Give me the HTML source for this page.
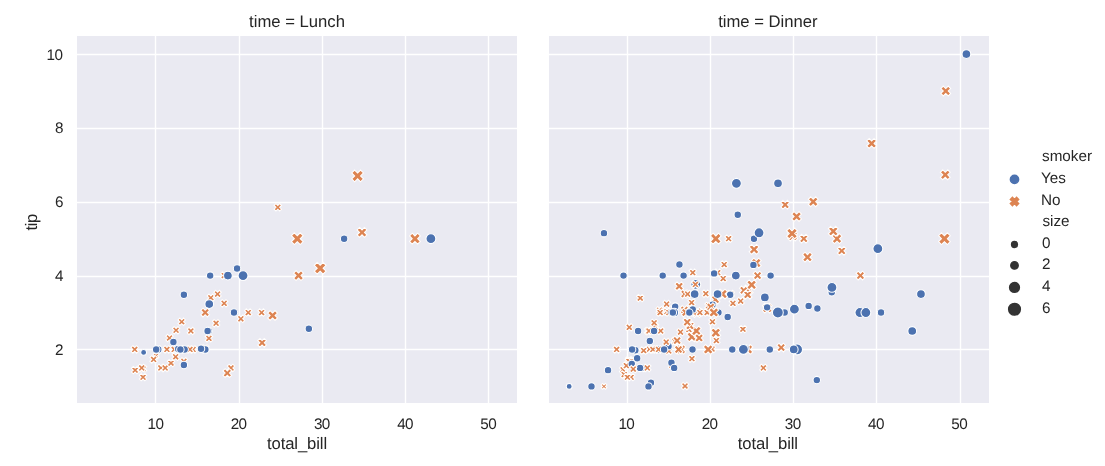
<!DOCTYPE html>
<html lang="en"><head><meta charset="utf-8"><title>relplot: tips</title>
<style>
html,body{margin:0;padding:0;background:#ffffff;}
body{width:1105px;height:466px;overflow:hidden;}
svg{display:block;}
svg text{font-family:"Liberation Sans",sans-serif;fill:#262626;text-rendering:geometricPrecision;}
</style></head><body>
<svg width="1105" height="466" viewBox="0 0 1105 466">
<rect width="1105" height="466" fill="#ffffff"/>
<defs>
<clipPath id="clipLunch"><rect x="77.0" y="36.0" width="440.0" height="367.0"/></clipPath>
<clipPath id="clipDinner"><rect x="549.0" y="36.0" width="440.0" height="367.0"/></clipPath>
</defs>
<g id="panel-Lunch">
<rect x="77.0" y="36.0" width="440.0" height="367.0" fill="#eaeaf2"/>
<g stroke="#ffffff" stroke-width="1.39" stroke-linecap="round" clip-path="url(#clipLunch)">
<line x1="155.50" y1="36.0" x2="155.50" y2="403.0"/>
<line x1="239.50" y1="36.0" x2="239.50" y2="403.0"/>
<line x1="322.50" y1="36.0" x2="322.50" y2="403.0"/>
<line x1="405.50" y1="36.0" x2="405.50" y2="403.0"/>
<line x1="488.50" y1="36.0" x2="488.50" y2="403.0"/>
<line x1="77.0" y1="349.50" x2="517.0" y2="349.50"/>
<line x1="77.0" y1="276.50" x2="517.0" y2="276.50"/>
<line x1="77.0" y1="202.50" x2="517.0" y2="202.50"/>
<line x1="77.0" y1="128.50" x2="517.0" y2="128.50"/>
<line x1="77.0" y1="54.50" x2="517.0" y2="54.50"/>
</g>
<g clip-path="url(#clipLunch)" stroke="#ffffff" stroke-width="1.042" stroke-linejoin="miter">
<path d="M296.07,270.67 298.53,273.13 301.00,270.67 303.46,273.13 301.00,275.60 303.46,278.07 301.00,280.53 298.53,278.07 296.07,280.53 293.60,278.07 296.07,275.60 293.60,273.13Z" fill="#dd8452"/>
<path d="M259.73,308.80 261.59,310.66 263.46,308.80 265.32,310.66 263.46,312.52 265.32,314.39 263.46,316.25 261.59,314.39 259.73,316.25 257.87,314.39 259.73,312.52 257.87,310.66Z" fill="#dd8452"/>
<path d="M214.22,319.51 216.08,321.37 217.95,319.51 219.81,321.37 217.95,323.23 219.81,325.10 217.95,326.96 216.08,325.10 214.22,326.96 212.36,325.10 214.22,323.23 212.36,321.37Z" fill="#dd8452"/>
<circle cx="233.97" cy="312.52" r="3.73" fill="#4c72b0"/>
<path d="M208.98,294.03 210.84,295.89 212.70,294.03 214.57,295.89 212.70,297.75 214.57,299.62 212.70,301.48 210.84,299.62 208.98,301.48 207.11,299.62 208.98,297.75 207.11,295.89Z" fill="#dd8452"/>
<path d="M154.54,352.78 156.01,354.25 157.49,352.78 158.96,354.25 157.49,355.73 158.96,357.20 157.49,358.67 156.01,357.20 154.54,358.67 153.07,357.20 154.54,355.73 153.07,354.25Z" fill="#dd8452"/>
<circle cx="344.13" cy="238.68" r="3.73" fill="#4c72b0"/>
<path d="M203.32,344.62 205.18,346.48 207.05,344.62 208.91,346.48 207.05,348.34 208.91,350.21 207.05,352.07 205.18,350.21 203.32,352.07 201.46,350.21 203.32,348.34 201.46,346.48Z" fill="#dd8452"/>
<path d="M359.55,227.47 362.02,229.93 364.48,227.47 366.95,229.93 364.48,232.40 366.95,234.86 364.48,237.33 362.02,234.86 359.55,237.33 357.09,234.86 359.55,232.40 357.09,229.93Z" fill="#dd8452"/>
<path d="M178.78,345.72 180.64,347.59 182.50,345.72 184.37,347.59 182.50,349.45 184.37,351.31 182.50,353.18 180.64,351.31 178.78,353.18 176.91,351.31 178.78,349.45 176.91,347.59Z" fill="#dd8452"/>
<path d="M222.46,271.87 224.32,273.74 226.18,271.87 228.05,273.74 226.18,275.60 228.05,277.46 226.18,279.33 224.32,277.46 222.46,279.33 220.59,277.46 222.46,275.60 220.59,273.74Z" fill="#dd8452"/>
<path d="M275.95,203.56 277.82,205.43 279.68,203.56 281.54,205.43 279.68,207.29 281.54,209.15 279.68,211.02 277.82,209.15 275.95,211.02 274.09,209.15 275.95,207.29 274.09,205.43Z" fill="#dd8452"/>
<path d="M246.42,308.80 248.28,310.66 250.14,308.80 252.01,310.66 250.14,312.52 252.01,314.39 250.14,316.25 248.28,314.39 246.42,316.25 244.55,314.39 246.42,312.52 244.55,310.66Z" fill="#dd8452"/>
<path d="M158.97,364.19 160.84,366.05 162.70,364.19 164.56,366.05 162.70,367.91 164.56,369.78 162.70,371.64 160.84,369.78 158.97,371.64 157.11,369.78 158.97,367.91 157.11,366.05Z" fill="#dd8452"/>
<path d="M173.78,353.11 175.65,354.97 177.51,353.11 179.37,354.97 177.51,356.83 179.37,358.70 177.51,360.56 175.65,358.70 173.78,360.56 171.92,358.70 173.78,356.83 171.92,354.97Z" fill="#dd8452"/>
<path d="M270.11,310.55 272.58,313.01 275.04,310.55 277.51,313.01 275.04,315.48 277.51,317.94 275.04,320.41 272.58,317.94 270.11,320.41 267.65,317.94 270.11,315.48 267.65,313.01Z" fill="#dd8452"/>
<path d="M167.63,334.28 169.49,336.14 171.35,334.28 173.22,336.14 171.35,338.00 173.22,339.87 171.35,341.73 169.49,339.87 167.63,341.73 165.76,339.87 167.63,338.00 165.76,336.14Z" fill="#dd8452"/>
<path d="M182.02,357.54 183.88,359.40 185.75,357.54 187.61,359.40 185.75,361.27 187.61,363.13 185.75,364.99 183.88,363.13 182.02,364.99 180.16,363.13 182.02,361.27 180.16,359.40Z" fill="#dd8452"/>
<path d="M189.01,327.26 190.87,329.12 192.74,327.26 194.60,329.12 192.74,330.99 194.60,332.85 192.74,334.71 190.87,332.85 189.01,334.71 187.15,332.85 189.01,330.99 187.15,329.12Z" fill="#dd8452"/>
<path d="M203.07,345.72 204.93,347.59 206.80,345.72 208.66,347.59 206.80,349.45 208.66,351.31 206.80,353.18 204.93,351.31 203.07,353.18 201.21,351.31 203.07,349.45 201.21,347.59Z" fill="#dd8452"/>
<path d="M174.20,326.52 176.06,328.39 177.93,326.52 179.79,328.39 177.93,330.25 179.79,332.11 177.93,333.98 176.06,332.11 174.20,333.98 172.34,332.11 174.20,330.25 172.34,328.39Z" fill="#dd8452"/>
<path d="M317.22,262.32 320.17,265.27 323.11,262.32 326.06,265.27 323.11,268.21 326.06,271.16 323.11,274.11 320.17,271.16 317.22,274.11 314.27,271.16 317.22,268.21 314.27,265.27Z" fill="#dd8452"/>
<path d="M141.25,364.92 143.12,366.79 144.98,364.92 146.84,366.79 144.98,368.65 146.84,370.51 144.98,372.38 143.12,370.51 141.25,372.38 139.39,370.51 141.25,368.65 139.39,366.79Z" fill="#dd8452"/>
<path d="M191.17,345.72 193.04,347.59 194.90,345.72 196.76,347.59 194.90,349.45 196.76,351.31 194.90,353.18 193.04,351.31 191.17,353.18 189.31,351.31 191.17,349.45 189.31,347.59Z" fill="#dd8452"/>
<path d="M165.05,345.72 166.91,347.59 168.77,345.72 170.64,347.59 168.77,349.45 170.64,351.31 168.77,353.18 166.91,351.31 165.05,353.18 163.18,351.31 165.05,349.45 163.18,347.59Z" fill="#dd8452"/>
<path d="M259.91,338.43 262.09,340.62 264.28,338.43 266.46,340.62 264.28,342.80 266.46,344.99 264.28,347.17 262.09,344.99 259.91,347.17 257.72,344.99 259.91,342.80 257.72,340.62Z" fill="#dd8452"/>
<path d="M229.11,364.19 230.98,366.05 232.84,364.19 234.70,366.05 232.84,367.91 234.70,369.78 232.84,371.64 230.98,369.78 229.11,371.64 227.25,369.78 229.11,367.91 227.25,366.05Z" fill="#dd8452"/>
<path d="M239.01,315.08 240.88,316.94 242.74,315.08 244.60,316.94 242.74,318.80 244.60,320.67 242.74,322.53 240.88,320.67 239.01,322.53 237.15,320.67 239.01,318.80 237.15,316.94Z" fill="#dd8452"/>
<path d="M163.30,364.19 165.16,366.05 167.03,364.19 168.89,366.05 167.03,367.91 168.89,369.78 167.03,371.64 165.16,369.78 163.30,371.64 161.44,369.78 163.30,367.91 161.44,366.05Z" fill="#dd8452"/>
<path d="M172.37,345.72 174.23,347.59 176.10,345.72 177.96,347.59 176.10,349.45 177.96,351.31 176.10,353.18 174.23,351.31 172.37,353.18 170.51,351.31 172.37,349.45 170.51,347.59Z" fill="#dd8452"/>
<path d="M222.29,299.57 224.15,301.43 226.02,299.57 227.88,301.43 226.02,303.29 227.88,305.16 226.02,307.02 224.15,305.16 222.29,307.02 220.43,305.16 222.29,303.29 220.43,301.43Z" fill="#dd8452"/>
<path d="M141.17,373.42 143.03,375.28 144.90,373.42 146.76,375.28 144.90,377.14 146.76,379.01 144.90,380.87 143.03,379.01 141.17,380.87 139.31,379.01 141.17,377.14 139.31,375.28Z" fill="#dd8452"/>
<path d="M156.31,345.72 158.18,347.59 160.04,345.72 161.90,347.59 160.04,349.45 161.90,351.31 160.04,353.18 158.18,351.31 156.31,353.18 154.45,351.31 156.31,349.45 154.45,347.59Z" fill="#dd8452"/>
<path d="M188.09,345.72 189.96,347.59 191.82,345.72 193.68,347.59 191.82,349.45 193.68,351.31 191.82,353.18 189.96,351.31 188.09,353.18 186.23,351.31 188.09,349.45 186.23,347.59Z" fill="#dd8452"/>
<circle cx="205.35" cy="349.45" r="3.73" fill="#4c72b0"/>
<path d="M179.86,318.03 181.72,319.89 183.58,318.03 185.45,319.89 183.58,321.76 185.45,323.62 183.58,325.48 181.72,323.62 179.86,325.48 177.99,323.62 179.86,321.76 177.99,319.89Z" fill="#dd8452"/>
<path d="M215.72,290.34 217.58,292.20 219.44,290.34 221.31,292.20 219.44,294.06 221.31,295.93 219.44,297.79 217.58,295.93 215.72,297.79 213.85,295.93 215.72,294.06 213.85,292.20Z" fill="#dd8452"/>
<path d="M354.66,170.01 357.61,172.96 360.55,170.01 363.50,172.96 360.55,175.90 363.50,178.85 360.55,181.80 357.61,178.85 354.66,181.80 351.71,178.85 354.66,175.90 351.71,172.96Z" fill="#dd8452"/>
<path d="M412.21,233.24 414.93,235.96 417.65,233.24 420.36,235.96 417.65,238.68 420.36,241.39 417.65,244.11 414.93,241.39 412.21,244.11 409.50,241.39 412.21,238.68 409.50,235.96Z" fill="#dd8452"/>
<path d="M294.34,232.78 297.29,235.73 300.23,232.78 303.18,235.73 300.23,238.68 303.18,241.62 300.23,244.57 297.29,241.62 294.34,244.57 291.39,241.62 294.34,238.68 291.39,235.73Z" fill="#dd8452"/>
<path d="M207.06,334.65 208.93,336.51 210.79,334.65 212.65,336.51 210.79,338.37 212.65,340.24 210.79,342.10 208.93,340.24 207.06,342.10 205.20,340.24 207.06,338.37 205.20,336.51Z" fill="#dd8452"/>
<path d="M139.84,364.19 141.70,366.05 143.57,364.19 145.43,366.05 143.57,367.91 145.43,369.78 143.57,371.64 141.70,369.78 139.84,371.64 137.98,369.78 139.84,367.91 137.98,366.05Z" fill="#dd8452"/>
<path d="M225.13,368.71 227.31,370.90 229.50,368.71 231.68,370.90 229.50,373.08 231.68,375.27 229.50,377.45 227.31,375.27 225.13,377.45 222.94,375.27 225.13,373.08 222.94,370.90Z" fill="#dd8452"/>
<path d="M169.13,359.39 170.99,361.25 172.85,359.39 174.72,361.25 172.85,363.11 174.72,364.98 172.85,366.84 170.99,364.98 169.13,366.84 167.26,364.98 169.13,363.11 167.26,361.25Z" fill="#dd8452"/>
<path d="M151.74,355.69 153.60,357.56 155.46,355.69 157.33,357.56 155.46,359.42 157.33,361.28 155.46,363.15 153.60,361.28 151.74,363.15 149.87,361.28 151.74,359.42 149.87,357.56Z" fill="#dd8452"/>
<path d="M132.85,345.72 134.71,347.59 136.58,345.72 138.44,347.59 136.58,349.45 138.44,351.31 136.58,353.18 134.71,351.31 132.85,353.18 130.99,351.31 132.85,349.45 130.99,347.59Z" fill="#dd8452"/>
<circle cx="237.05" cy="268.58" r="3.73" fill="#4c72b0"/>
<circle cx="308.85" cy="328.77" r="3.73" fill="#4c72b0"/>
<circle cx="201.02" cy="348.71" r="3.73" fill="#4c72b0"/>
<circle cx="210.18" cy="275.60" r="3.73" fill="#4c72b0"/>
<path d="M133.27,366.40 135.13,368.26 136.99,366.40 138.86,368.26 136.99,370.13 138.86,371.99 136.99,373.85 135.13,371.99 133.27,373.85 131.40,371.99 133.27,370.13 131.40,368.26Z" fill="#dd8452"/>
<circle cx="158.26" cy="349.45" r="3.73" fill="#4c72b0"/>
<circle cx="430.91" cy="238.68" r="4.93" fill="#4c72b0"/>
<circle cx="180.39" cy="349.45" r="3.73" fill="#4c72b0"/>
<circle cx="184.63" cy="349.45" r="3.73" fill="#4c72b0"/>
<circle cx="227.90" cy="275.60" r="4.37" fill="#4c72b0"/>
<circle cx="178.23" cy="349.08" r="3.73" fill="#4c72b0"/>
<circle cx="180.39" cy="349.45" r="3.73" fill="#4c72b0"/>
<circle cx="208.68" cy="330.99" r="3.73" fill="#4c72b0"/>
<circle cx="243.04" cy="275.60" r="4.93" fill="#4c72b0"/>
<circle cx="209.26" cy="304.03" r="4.37" fill="#4c72b0"/>
<circle cx="173.40" cy="342.06" r="3.73" fill="#4c72b0"/>
<circle cx="183.88" cy="294.80" r="3.73" fill="#4c72b0"/>
<circle cx="143.62" cy="352.40" r="2.95" fill="#4c72b0"/>
<path d="M203.00,308.15 205.18,310.34 207.37,308.15 209.55,310.34 207.37,312.52 209.55,314.71 207.37,316.90 205.18,314.71 203.00,316.90 200.81,314.71 203.00,312.52 200.81,310.34Z" fill="#dd8452"/>
<circle cx="183.88" cy="364.96" r="3.73" fill="#4c72b0"/>
<circle cx="207.60" cy="330.99" r="3.73" fill="#4c72b0"/>
<circle cx="156.18" cy="349.45" r="3.73" fill="#4c72b0"/>
</g>
<text x="297.0" y="27.3" font-size="16.67" text-anchor="middle">time = Lunch</text>
<text x="155.43" y="428.9" font-size="15.28" text-anchor="middle" letter-spacing="-0.6">10</text>
<text x="238.63" y="428.9" font-size="15.28" text-anchor="middle" letter-spacing="-0.6">20</text>
<text x="321.83" y="428.9" font-size="15.28" text-anchor="middle" letter-spacing="-0.6">30</text>
<text x="405.03" y="428.9" font-size="15.28" text-anchor="middle" letter-spacing="-0.6">40</text>
<text x="488.23" y="428.9" font-size="15.28" text-anchor="middle" letter-spacing="-0.6">50</text>
<text x="297.0" y="448.8" font-size="16.67" text-anchor="middle" letter-spacing="-0.1">total_bill</text>
</g>
<g id="panel-Dinner">
<rect x="549.0" y="36.0" width="440.0" height="367.0" fill="#eaeaf2"/>
<g stroke="#ffffff" stroke-width="1.39" stroke-linecap="round" clip-path="url(#clipDinner)">
<line x1="627.50" y1="36.0" x2="627.50" y2="403.0"/>
<line x1="710.50" y1="36.0" x2="710.50" y2="403.0"/>
<line x1="793.50" y1="36.0" x2="793.50" y2="403.0"/>
<line x1="876.50" y1="36.0" x2="876.50" y2="403.0"/>
<line x1="960.50" y1="36.0" x2="960.50" y2="403.0"/>
<line x1="549.0" y1="349.50" x2="989.0" y2="349.50"/>
<line x1="549.0" y1="276.50" x2="989.0" y2="276.50"/>
<line x1="549.0" y1="202.50" x2="989.0" y2="202.50"/>
<line x1="549.0" y1="128.50" x2="989.0" y2="128.50"/>
<line x1="549.0" y1="54.50" x2="989.0" y2="54.50"/>
</g>
<g clip-path="url(#clipDinner)" stroke="#ffffff" stroke-width="1.042" stroke-linejoin="miter">
<path d="M683.14,382.28 685.01,384.14 686.87,382.28 688.73,384.14 686.87,386.01 688.73,387.87 686.87,389.73 685.01,387.87 683.14,389.73 681.28,387.87 683.14,386.01 681.28,384.14Z" fill="#dd8452"/>
<path d="M627.49,357.63 629.68,359.82 631.86,357.63 634.05,359.82 631.86,362.00 634.05,364.19 631.86,366.37 629.68,364.19 627.49,366.37 625.31,364.19 627.49,362.00 625.31,359.82Z" fill="#dd8452"/>
<path d="M716.27,289.69 718.45,291.88 720.64,289.69 722.82,291.88 720.64,294.06 722.82,296.25 720.64,298.43 718.45,296.25 716.27,298.43 714.08,296.25 716.27,294.06 714.08,291.88Z" fill="#dd8452"/>
<path d="M738.80,297.35 740.67,299.21 742.53,297.35 744.39,299.21 742.53,301.08 744.39,302.94 742.53,304.81 740.67,302.94 738.80,304.81 736.94,302.94 738.80,301.08 736.94,299.21Z" fill="#dd8452"/>
<path d="M745.77,285.07 748.24,287.54 750.70,285.07 753.17,287.54 750.70,290.00 753.17,292.47 750.70,294.93 748.24,292.47 745.77,294.93 743.31,292.47 745.77,290.00 743.31,287.54Z" fill="#dd8452"/>
<path d="M751.60,244.45 754.06,246.92 756.53,244.45 758.99,246.92 756.53,249.38 758.99,251.85 756.53,254.31 754.06,251.85 751.60,254.31 749.13,251.85 751.60,249.38 749.13,246.92Z" fill="#dd8452"/>
<path d="M614.75,345.72 616.62,347.59 618.48,345.72 620.34,347.59 618.48,349.45 620.34,351.31 618.48,353.18 616.62,351.31 614.75,353.18 612.89,351.31 614.75,349.45 612.89,347.59Z" fill="#dd8452"/>
<path d="M764.83,303.16 767.29,305.63 769.76,303.16 772.22,305.63 769.76,308.09 772.22,310.56 769.76,313.02 767.29,310.56 764.83,313.02 762.36,310.56 764.83,308.09 762.36,305.63Z" fill="#dd8452"/>
<path d="M666.92,347.20 668.78,349.06 670.65,347.20 672.51,349.06 670.65,350.93 672.51,352.79 670.65,354.65 668.78,352.79 666.92,354.65 665.06,352.79 666.92,350.93 665.06,349.06Z" fill="#dd8452"/>
<path d="M664.76,300.31 666.62,302.17 668.48,300.31 670.35,302.17 668.48,304.03 670.35,305.90 668.48,307.76 666.62,305.90 664.76,307.76 662.89,305.90 664.76,304.03 662.89,302.17Z" fill="#dd8452"/>
<path d="M627.23,356.43 629.10,358.29 630.96,356.43 632.82,358.29 630.96,360.16 632.82,362.02 630.96,363.89 629.10,362.02 627.23,363.89 625.37,362.02 627.23,360.16 625.37,358.29Z" fill="#dd8452"/>
<path d="M834.55,233.74 837.01,236.21 839.48,233.74 841.94,236.21 839.48,238.68 841.94,241.14 839.48,243.61 837.01,241.14 834.55,243.61 832.08,241.14 834.55,238.68 832.08,236.21Z" fill="#dd8452"/>
<path d="M670.08,361.60 671.94,363.46 673.81,361.60 675.67,363.46 673.81,365.33 675.67,367.19 673.81,369.05 671.94,367.19 670.08,369.05 668.22,367.19 670.08,365.33 668.22,363.46Z" fill="#dd8452"/>
<path d="M694.52,307.59 696.99,310.06 699.45,307.59 701.92,310.06 699.45,312.52 701.92,314.99 699.45,317.46 696.99,314.99 694.52,317.46 692.06,314.99 694.52,312.52 692.06,310.06Z" fill="#dd8452"/>
<path d="M665.17,308.06 667.04,309.92 668.90,308.06 670.76,309.92 668.90,311.79 670.76,313.65 668.90,315.51 667.04,313.65 665.17,315.51 663.31,313.65 665.17,311.79 663.31,309.92Z" fill="#dd8452"/>
<path d="M721.33,274.83 723.20,276.69 725.06,274.83 726.92,276.69 725.06,278.55 726.92,280.42 725.06,282.28 723.20,280.42 721.33,282.28 719.47,280.42 721.33,278.55 719.47,276.69Z" fill="#dd8452"/>
<path d="M627.41,357.27 629.60,359.45 631.78,357.27 633.97,359.45 631.78,361.64 633.97,363.82 631.78,366.01 629.60,363.82 627.41,366.01 625.23,363.82 627.41,361.64 625.23,359.45Z" fill="#dd8452"/>
<path d="M677.00,281.94 679.18,284.12 681.37,281.94 683.55,284.12 681.37,286.31 683.55,288.49 681.37,290.68 679.18,288.49 677.00,290.68 674.81,288.49 677.00,286.31 674.81,284.12Z" fill="#dd8452"/>
<path d="M682.66,289.69 684.84,291.88 687.03,289.69 689.21,291.88 687.03,294.06 689.21,296.25 687.03,298.43 684.84,296.25 682.66,298.43 680.47,296.25 682.66,294.06 680.47,291.88Z" fill="#dd8452"/>
<path d="M713.27,295.23 715.46,297.42 717.64,295.23 719.83,297.42 717.64,299.60 719.83,301.79 717.64,303.97 715.46,301.79 713.27,303.97 711.09,301.79 713.27,299.60 711.09,297.42Z" fill="#dd8452"/>
<path d="M690.88,268.92 692.74,270.78 694.61,268.92 696.47,270.78 694.61,272.65 696.47,274.51 694.61,276.37 692.74,274.51 690.88,276.37 689.02,274.51 690.88,272.65 689.02,270.78Z" fill="#dd8452"/>
<path d="M710.60,318.03 712.46,319.89 714.33,318.03 716.19,319.89 714.33,321.76 716.19,323.62 714.33,325.48 712.46,323.62 710.60,325.48 708.74,323.62 710.60,321.76 708.74,319.89Z" fill="#dd8452"/>
<path d="M672.99,337.23 674.86,339.09 676.72,337.23 678.58,339.09 676.72,340.96 678.58,342.82 676.72,344.68 674.86,342.82 672.99,344.68 671.13,342.82 672.99,340.96 671.13,339.09Z" fill="#dd8452"/>
<path d="M869.16,138.48 871.62,140.94 874.09,138.48 876.55,140.94 874.09,143.41 876.55,145.87 874.09,148.34 871.62,145.87 869.16,148.34 866.69,145.87 869.16,143.41 866.69,140.94Z" fill="#dd8452"/>
<path d="M706.69,302.15 708.55,304.02 710.42,302.15 712.28,304.02 710.42,305.88 712.28,307.74 710.42,309.61 708.55,307.74 706.69,309.61 704.83,307.74 706.69,305.88 704.83,304.02Z" fill="#dd8452"/>
<path d="M689.36,331.97 691.83,334.43 694.29,331.97 696.76,334.43 694.29,336.90 696.76,339.36 694.29,341.83 691.83,339.36 689.36,341.83 686.90,339.36 689.36,336.90 686.90,334.43Z" fill="#dd8452"/>
<path d="M653.03,345.72 654.89,347.59 656.75,345.72 658.62,347.59 656.75,349.45 658.62,351.31 656.75,353.18 654.89,351.31 653.03,353.18 651.16,351.31 653.03,349.45 651.16,347.59Z" fill="#dd8452"/>
<path d="M647.37,345.72 649.23,347.59 651.09,345.72 652.96,347.59 651.09,349.45 652.96,351.31 651.09,353.18 649.23,351.31 647.37,353.18 645.50,351.31 647.37,349.45 645.50,347.59Z" fill="#dd8452"/>
<path d="M722.33,260.80 724.19,262.66 726.06,260.80 727.92,262.66 726.06,264.52 727.92,266.39 726.06,268.25 724.19,266.39 722.33,268.25 720.47,266.39 722.33,264.52 720.47,262.66Z" fill="#dd8452"/>
<path d="M705.27,308.80 707.14,310.66 709.00,308.80 710.86,310.66 709.00,312.52 710.86,314.39 709.00,316.25 707.14,314.39 705.27,316.25 703.41,314.39 705.27,312.52 703.41,310.66Z" fill="#dd8452"/>
<path d="M621.24,366.03 623.11,367.90 624.97,366.03 626.83,367.90 624.97,369.76 626.83,371.62 624.97,373.49 623.11,371.62 621.24,373.49 619.38,371.62 621.24,369.76 619.38,367.90Z" fill="#dd8452"/>
<path d="M693.86,326.06 696.32,328.52 698.79,326.06 701.25,328.52 698.79,330.99 701.25,333.45 698.79,335.92 696.32,333.45 693.86,335.92 691.39,333.45 693.86,330.99 691.39,328.52Z" fill="#dd8452"/>
<path d="M667.09,308.80 668.95,310.66 670.81,308.80 672.68,310.66 670.81,312.52 672.68,314.39 670.81,316.25 668.95,314.39 667.09,316.25 665.22,314.39 667.09,312.52 665.22,310.66Z" fill="#dd8452"/>
<path d="M713.33,327.90 715.79,330.37 718.26,327.90 720.72,330.37 718.26,332.83 720.72,335.30 718.26,337.76 715.79,335.30 713.33,337.76 710.86,335.30 713.33,332.83 710.86,330.37Z" fill="#dd8452"/>
<path d="M689.72,298.83 691.58,300.69 693.44,298.83 695.31,300.69 693.44,302.56 695.31,304.42 693.44,306.28 691.58,304.42 689.72,306.28 687.85,304.42 689.72,302.56 687.85,300.69Z" fill="#dd8452"/>
<path d="M741.64,286.00 743.83,288.18 746.01,286.00 748.20,288.18 746.01,290.37 748.20,292.56 746.01,294.74 743.83,292.56 741.64,294.74 739.46,292.56 741.64,290.37 739.46,288.18Z" fill="#dd8452"/>
<path d="M677.16,345.08 679.35,347.26 681.53,345.08 683.72,347.26 681.53,349.45 683.72,351.64 681.53,353.82 679.35,351.64 677.16,353.82 674.98,351.64 677.16,349.45 674.98,347.26Z" fill="#dd8452"/>
<path d="M682.32,305.57 684.51,307.76 686.69,305.57 688.88,307.76 686.69,309.94 688.88,312.13 686.69,314.31 684.51,312.13 682.32,314.31 680.14,312.13 682.32,309.94 680.14,307.76Z" fill="#dd8452"/>
<path d="M696.97,333.63 699.15,335.82 701.34,333.63 703.52,335.82 701.34,338.00 703.52,340.19 701.34,342.37 699.15,340.19 696.97,342.37 694.78,340.19 696.97,338.00 694.78,335.82Z" fill="#dd8452"/>
<path d="M801.63,234.30 803.82,236.49 806.00,234.30 808.19,236.49 806.00,238.68 808.19,240.86 806.00,243.05 803.82,240.86 801.63,243.05 799.45,240.86 801.63,238.68 799.45,236.49Z" fill="#dd8452"/>
<path d="M674.92,336.22 677.10,338.40 679.29,336.22 681.47,338.40 679.29,340.59 681.47,342.77 679.29,344.96 677.10,342.77 674.92,344.96 672.73,342.77 674.92,340.59 672.73,338.40Z" fill="#dd8452"/>
<path d="M687.05,325.78 688.92,327.65 690.78,325.78 692.64,327.65 690.78,329.51 692.64,331.37 690.78,333.24 688.92,331.37 687.05,333.24 685.19,331.37 687.05,329.51 685.19,327.65Z" fill="#dd8452"/>
<path d="M657.77,306.58 659.63,308.45 661.49,306.58 663.36,308.45 661.49,310.31 663.36,312.17 661.49,314.04 659.63,312.17 657.77,314.04 655.90,312.17 657.77,310.31 655.90,308.45Z" fill="#dd8452"/>
<path d="M622.32,370.83 624.19,372.70 626.05,370.83 627.91,372.70 626.05,374.56 627.91,376.42 626.05,378.29 624.19,376.42 622.32,378.29 620.46,376.42 622.32,374.56 620.46,372.70Z" fill="#dd8452"/>
<path d="M794.11,211.59 796.58,214.05 799.04,211.59 801.51,214.05 799.04,216.52 801.51,218.99 799.04,221.45 796.58,218.99 794.11,221.45 791.65,218.99 794.11,216.52 791.65,214.05Z" fill="#dd8452"/>
<path d="M693.96,308.80 695.82,310.66 697.69,308.80 699.55,310.66 697.69,312.52 699.55,314.39 697.69,316.25 695.82,314.39 693.96,316.25 692.10,314.39 693.96,312.52 692.10,310.66Z" fill="#dd8452"/>
<path d="M726.74,234.95 728.60,236.81 730.47,234.95 732.33,236.81 730.47,238.68 732.33,240.54 730.47,242.40 728.60,240.54 726.74,242.40 724.88,240.54 726.74,238.68 724.88,236.81Z" fill="#dd8452"/>
<path d="M810.75,196.82 813.22,199.28 815.68,196.82 818.15,199.28 815.68,201.75 818.15,204.22 815.68,206.68 813.22,204.22 810.75,206.68 808.29,204.22 810.75,201.75 808.29,199.28Z" fill="#dd8452"/>
<path d="M779.00,343.23 781.19,345.42 783.37,343.23 785.56,345.42 783.37,347.60 785.56,349.79 783.37,351.97 781.19,349.79 779.00,351.97 776.82,349.79 779.00,347.60 776.82,345.42Z" fill="#dd8452"/>
<path d="M691.88,308.80 693.74,310.66 695.61,308.80 697.47,310.66 695.61,312.52 697.47,314.39 695.61,316.25 693.74,314.39 691.88,316.25 690.02,314.39 691.88,312.52 690.02,310.66Z" fill="#dd8452"/>
<path d="M646.12,327.26 647.98,329.12 649.85,327.26 651.71,329.12 649.85,330.99 651.71,332.85 649.85,334.71 647.98,332.85 646.12,334.71 644.26,332.85 646.12,330.99 644.26,329.12Z" fill="#dd8452"/>
<path d="M627.40,323.57 629.26,325.43 631.13,323.57 632.99,325.43 631.13,327.29 632.99,329.16 631.13,331.02 629.26,329.16 627.40,331.02 625.54,329.16 627.40,327.29 625.54,325.43Z" fill="#dd8452"/>
<path d="M830.80,226.36 833.27,228.82 835.73,226.36 838.20,228.82 835.73,231.29 838.20,233.76 835.73,236.22 833.27,233.76 830.80,236.22 828.34,233.76 830.80,231.29 828.34,228.82Z" fill="#dd8452"/>
<path d="M624.49,361.97 626.35,363.83 628.21,361.97 630.08,363.83 628.21,365.70 630.08,367.56 628.21,369.42 626.35,367.56 624.49,369.42 622.62,367.56 624.49,365.70 622.62,363.83Z" fill="#dd8452"/>
<path d="M753.84,258.12 756.31,260.58 758.77,258.12 761.24,260.58 758.77,263.05 761.24,265.51 758.77,267.98 756.31,265.51 753.84,267.98 751.38,265.51 753.84,263.05 751.38,260.58Z" fill="#dd8452"/>
<path d="M703.94,289.97 705.81,291.83 707.67,289.97 709.53,291.83 707.67,293.69 709.53,295.56 707.67,297.42 705.81,295.56 703.94,297.42 702.08,295.56 703.94,293.69 702.08,291.83Z" fill="#dd8452"/>
<circle cx="859.89" cy="312.52" r="4.93" fill="#4c72b0"/>
<path d="M761.52,364.19 763.38,366.05 765.24,364.19 767.11,366.05 765.24,367.91 767.11,369.78 765.24,371.64 763.38,369.78 761.52,371.64 759.65,369.78 761.52,367.91 759.65,366.05Z" fill="#dd8452"/>
<circle cx="637.17" cy="358.31" r="3.73" fill="#4c72b0"/>
<path d="M942.79,169.86 945.26,172.33 947.72,169.86 950.19,172.33 947.72,174.79 950.19,177.26 947.72,179.72 945.26,177.26 942.79,179.72 940.33,177.26 942.79,174.79 940.33,172.33Z" fill="#dd8452"/>
<circle cx="712.46" cy="304.77" r="3.73" fill="#4c72b0"/>
<circle cx="658.55" cy="349.45" r="3.73" fill="#4c72b0"/>
<circle cx="635.34" cy="350.19" r="3.73" fill="#4c72b0"/>
<circle cx="695.82" cy="284.46" r="4.93" fill="#4c72b0"/>
<path d="M687.81,321.45 690.00,323.63 692.18,321.45 694.37,323.63 692.18,325.82 694.37,328.00 692.18,330.19 690.00,328.00 687.81,330.19 685.63,328.00 687.81,325.82 685.63,323.63Z" fill="#dd8452"/>
<path d="M708.53,302.62 710.72,304.80 712.90,302.62 715.09,304.80 712.90,306.99 715.09,309.17 712.90,311.36 710.72,309.17 708.53,311.36 706.35,309.17 708.53,306.99 706.35,304.80Z" fill="#dd8452"/>
<path d="M678.65,328.37 680.51,330.23 682.38,328.37 684.24,330.23 682.38,332.10 684.24,333.96 682.38,335.82 680.51,333.96 678.65,335.82 676.79,333.96 678.65,332.10 676.79,330.23Z" fill="#dd8452"/>
<circle cx="569.19" cy="386.38" r="2.95" fill="#4c72b0"/>
<path d="M710.10,345.35 711.96,347.22 713.83,345.35 715.69,347.22 713.83,349.08 715.69,350.94 713.83,352.81 711.96,350.94 710.10,352.81 708.24,350.94 710.10,349.08 708.24,347.22Z" fill="#dd8452"/>
<circle cx="668.53" cy="346.13" r="3.73" fill="#4c72b0"/>
<path d="M641.79,346.83 643.66,348.69 645.52,346.83 647.38,348.69 645.52,350.56 647.38,352.42 645.52,354.28 643.66,352.42 641.79,354.28 639.93,352.42 641.79,350.56 639.93,348.69Z" fill="#dd8452"/>
<path d="M683.49,308.15 685.67,310.34 687.86,308.15 690.04,310.34 687.86,312.52 690.04,314.71 687.86,316.90 685.67,314.71 683.49,316.90 681.30,314.71 683.49,312.52 681.30,310.34Z" fill="#dd8452"/>
<circle cx="767.13" cy="307.36" r="3.73" fill="#4c72b0"/>
<circle cx="753.98" cy="238.68" r="3.73" fill="#4c72b0"/>
<path d="M664.34,338.34 666.20,340.20 668.07,338.34 669.93,340.20 668.07,342.06 669.93,343.93 668.07,345.79 666.20,343.93 664.34,345.79 662.48,343.93 664.34,342.06 662.48,340.20Z" fill="#dd8452"/>
<path d="M629.23,373.42 631.09,375.28 632.96,373.42 634.82,375.28 632.96,377.14 634.82,379.01 632.96,380.87 631.09,379.01 629.23,380.87 627.37,379.01 629.23,377.14 627.37,375.28Z" fill="#dd8452"/>
<circle cx="692.74" cy="309.57" r="3.73" fill="#4c72b0"/>
<circle cx="784.68" cy="312.52" r="3.73" fill="#4c72b0"/>
<path d="M728.90,290.34 730.77,292.20 732.63,290.34 734.49,292.20 732.63,294.06 734.49,295.93 732.63,297.79 730.77,295.93 728.90,297.79 727.04,295.93 728.90,294.06 727.04,292.20Z" fill="#dd8452"/>
<circle cx="591.49" cy="386.38" r="3.73" fill="#4c72b0"/>
<circle cx="679.43" cy="264.52" r="3.73" fill="#4c72b0"/>
<path d="M731.07,299.57 732.93,301.43 734.79,299.57 736.66,301.43 734.79,303.29 736.66,305.16 734.79,307.02 732.93,305.16 731.07,307.02 729.20,305.16 731.07,303.29 729.20,301.43Z" fill="#dd8452"/>
<circle cx="877.86" cy="248.64" r="4.93" fill="#4c72b0"/>
<circle cx="770.62" cy="275.60" r="3.73" fill="#4c72b0"/>
<circle cx="643.74" cy="367.91" r="3.73" fill="#4c72b0"/>
<circle cx="718.45" cy="312.52" r="3.73" fill="#4c72b0"/>
<path d="M645.45,364.19 647.32,366.05 649.18,364.19 651.04,366.05 649.18,367.91 651.04,369.78 649.18,371.64 647.32,369.78 645.45,371.64 643.59,369.78 645.45,367.91 643.59,366.05Z" fill="#dd8452"/>
<circle cx="638.08" cy="330.99" r="3.73" fill="#4c72b0"/>
<circle cx="671.61" cy="312.52" r="3.73" fill="#4c72b0"/>
<circle cx="912.23" cy="330.99" r="4.37" fill="#4c72b0"/>
<circle cx="730.18" cy="294.80" r="3.73" fill="#4c72b0"/>
<path d="M715.84,268.92 717.70,270.78 719.57,268.92 721.43,270.78 719.57,272.65 721.43,274.51 719.57,276.37 717.70,274.51 715.84,276.37 713.98,274.51 715.84,272.65 713.98,270.78Z" fill="#dd8452"/>
<circle cx="671.45" cy="362.74" r="3.73" fill="#4c72b0"/>
<circle cx="714.13" cy="273.38" r="3.73" fill="#4c72b0"/>
<circle cx="753.40" cy="264.89" r="3.73" fill="#4c72b0"/>
<path d="M693.54,280.74 695.41,282.60 697.27,280.74 699.13,282.60 697.27,284.46 699.13,286.33 697.27,288.19 695.41,286.33 693.54,288.19 691.68,286.33 693.54,284.46 691.68,282.60Z" fill="#dd8452"/>
<circle cx="662.71" cy="275.60" r="3.73" fill="#4c72b0"/>
<path d="M658.27,308.80 660.13,310.66 661.99,308.80 663.86,310.66 661.99,312.52 663.86,314.39 661.99,316.25 660.13,314.39 658.27,316.25 656.40,314.39 658.27,312.52 656.40,310.66Z" fill="#dd8452"/>
<path d="M602.50,383.43 603.97,384.90 605.44,383.43 606.92,384.90 605.44,386.38 606.92,387.85 605.44,389.32 603.97,387.85 602.50,389.32 601.02,387.85 602.50,386.38 601.02,384.90Z" fill="#dd8452"/>
<path d="M858.21,271.23 860.39,273.41 862.58,271.23 864.76,273.41 862.58,275.60 864.76,277.79 862.58,279.97 860.39,277.79 858.21,279.97 856.02,277.79 858.21,275.60 856.02,273.41Z" fill="#dd8452"/>
<path d="M741.05,325.41 742.91,327.28 744.78,325.41 746.64,327.28 744.78,329.14 746.64,331.00 744.78,332.87 742.91,331.00 741.05,332.87 739.19,331.00 741.05,329.14 739.19,327.28Z" fill="#dd8452"/>
<path d="M755.37,271.23 757.56,273.41 759.74,271.23 761.93,273.41 759.74,275.60 761.93,277.79 759.74,279.97 757.56,277.79 755.37,279.97 753.19,277.79 755.37,275.60 753.19,273.41Z" fill="#dd8452"/>
<path d="M685.81,290.34 687.67,292.20 689.53,290.34 691.40,292.20 689.53,294.06 691.40,295.93 689.53,297.79 687.67,295.93 685.81,297.79 683.94,295.93 685.81,294.06 683.94,292.20Z" fill="#dd8452"/>
<path d="M790.20,231.16 792.67,233.63 795.13,231.16 797.60,233.63 795.13,236.09 797.60,238.56 795.13,241.02 792.67,238.56 790.20,241.02 787.74,238.56 790.20,236.09 787.74,233.63Z" fill="#dd8452"/>
<path d="M658.85,327.26 660.71,329.12 662.58,327.26 664.44,329.12 662.58,330.99 664.44,332.85 662.58,334.71 660.71,332.85 658.85,334.71 656.99,332.85 658.85,330.99 656.99,329.12Z" fill="#dd8452"/>
<path d="M651.03,345.72 652.89,347.59 654.75,345.72 656.62,347.59 654.75,349.45 656.62,351.31 654.75,353.18 652.89,351.31 651.03,353.18 649.16,351.31 651.03,349.45 649.16,347.59Z" fill="#dd8452"/>
<path d="M685.07,317.76 687.25,319.94 689.44,317.76 691.62,319.94 689.44,322.13 691.62,324.31 689.44,326.50 687.25,324.31 685.07,326.50 682.88,324.31 685.07,322.13 682.88,319.94Z" fill="#dd8452"/>
<path d="M745.44,344.52 747.91,346.98 750.37,344.52 752.84,346.98 750.37,349.45 752.84,351.92 750.37,354.38 747.91,351.92 745.44,354.38 742.98,351.92 745.44,349.45 742.98,346.98Z" fill="#dd8452"/>
<path d="M705.67,344.52 708.14,346.98 710.60,344.52 713.07,346.98 710.60,349.45 713.07,351.92 710.60,354.38 708.14,351.92 705.67,354.38 703.21,351.92 705.67,349.45 703.21,346.98Z" fill="#dd8452"/>
<path d="M789.29,228.07 792.00,230.79 794.72,228.07 797.43,230.79 794.72,233.51 797.43,236.22 794.72,238.94 792.00,236.22 789.29,238.94 786.57,236.22 789.29,233.51 786.57,230.79Z" fill="#dd8452"/>
<path d="M941.48,232.78 944.42,235.73 947.37,232.78 950.32,235.73 947.37,238.68 950.32,241.62 947.37,244.57 944.42,241.62 941.48,244.57 938.53,241.62 941.48,238.68 938.53,235.73Z" fill="#dd8452"/>
<path d="M749.18,279.90 751.65,282.37 754.12,279.90 756.58,282.37 754.12,284.83 756.58,287.30 754.12,289.76 751.65,287.30 749.18,289.76 746.72,287.30 749.18,284.83 746.72,282.37Z" fill="#dd8452"/>
<path d="M653.19,323.20 655.05,325.06 656.92,323.20 658.78,325.06 656.92,326.93 658.78,328.79 656.92,330.65 655.05,328.79 653.19,330.65 651.33,328.79 653.19,326.93 651.33,325.06Z" fill="#dd8452"/>
<path d="M678.38,344.52 680.85,346.98 683.31,344.52 685.78,346.98 683.31,349.45 685.78,351.92 683.31,354.38 680.85,351.92 678.38,354.38 675.92,351.92 678.38,349.45 675.92,346.98Z" fill="#dd8452"/>
<path d="M720.06,289.13 722.53,291.60 725.00,289.13 727.46,291.60 725.00,294.06 727.46,296.53 725.00,298.99 722.53,296.53 720.06,298.99 717.60,296.53 720.06,294.06 717.60,291.60Z" fill="#dd8452"/>
<path d="M647.12,327.26 648.98,329.12 650.84,327.26 652.71,329.12 650.84,330.99 652.71,332.85 650.84,334.71 648.98,332.85 647.12,334.71 645.25,332.85 647.12,330.99 645.25,329.12Z" fill="#dd8452"/>
<path d="M676.33,345.08 678.52,347.26 680.70,345.08 682.89,347.26 680.70,349.45 682.89,351.64 680.70,353.82 678.52,351.64 676.33,353.82 674.15,351.64 676.33,349.45 674.15,347.26Z" fill="#dd8452"/>
<path d="M656.69,345.72 658.55,347.59 660.41,345.72 662.28,347.59 660.41,349.45 662.28,351.31 660.41,353.18 658.55,351.31 656.69,353.18 654.82,351.31 656.69,349.45 654.82,347.59Z" fill="#dd8452"/>
<circle cx="689.33" cy="312.52" r="3.73" fill="#4c72b0"/>
<path d="M745.47,290.43 747.66,292.62 749.84,290.43 752.03,292.62 749.84,294.80 752.03,296.99 749.84,299.17 747.66,296.99 745.47,299.17 743.29,296.99 745.47,294.80 743.29,292.62Z" fill="#dd8452"/>
<path d="M714.51,336.86 716.37,338.72 718.24,336.86 720.10,338.72 718.24,340.59 720.10,342.45 718.24,344.31 716.37,342.45 714.51,344.31 712.65,342.45 714.51,340.59 712.65,338.72Z" fill="#dd8452"/>
<path d="M805.01,252.21 807.48,254.67 809.94,252.21 812.41,254.67 809.94,257.14 812.41,259.60 809.94,262.07 807.48,259.60 805.01,262.07 802.55,259.60 805.01,257.14 802.55,254.67Z" fill="#dd8452"/>
<circle cx="631.76" cy="363.85" r="3.73" fill="#4c72b0"/>
<circle cx="632.09" cy="349.45" r="3.73" fill="#4c72b0"/>
<circle cx="966.39" cy="54.05" r="4.37" fill="#4c72b0"/>
<circle cx="675.19" cy="306.62" r="3.73" fill="#4c72b0"/>
<circle cx="603.97" cy="233.14" r="3.73" fill="#4c72b0"/>
<circle cx="808.64" cy="305.88" r="3.73" fill="#4c72b0"/>
<circle cx="683.59" cy="275.60" r="3.73" fill="#4c72b0"/>
<circle cx="817.38" cy="308.46" r="3.73" fill="#4c72b0"/>
<circle cx="692.49" cy="349.45" r="3.73" fill="#4c72b0"/>
<circle cx="664.12" cy="349.45" r="3.73" fill="#4c72b0"/>
<circle cx="623.52" cy="275.60" r="3.73" fill="#4c72b0"/>
<circle cx="831.77" cy="292.22" r="3.73" fill="#4c72b0"/>
<circle cx="831.94" cy="287.42" r="4.93" fill="#4c72b0"/>
<circle cx="737.76" cy="214.67" r="3.73" fill="#4c72b0"/>
<circle cx="920.96" cy="294.06" r="4.37" fill="#4c72b0"/>
<circle cx="736.42" cy="183.29" r="4.93" fill="#4c72b0"/>
<circle cx="881.03" cy="312.52" r="3.73" fill="#4c72b0"/>
<path d="M713.07,233.24 715.79,235.96 718.51,233.24 721.22,235.96 718.51,238.68 721.22,241.39 718.51,244.11 715.79,241.39 713.07,244.11 710.36,241.39 713.07,238.68 710.36,235.96Z" fill="#dd8452"/>
<circle cx="717.54" cy="294.06" r="4.37" fill="#4c72b0"/>
<circle cx="797.08" cy="349.45" r="5.43" fill="#4c72b0"/>
<circle cx="694.66" cy="294.06" r="4.37" fill="#4c72b0"/>
<circle cx="735.84" cy="275.60" r="4.37" fill="#4c72b0"/>
<circle cx="674.19" cy="367.91" r="3.73" fill="#4c72b0"/>
<circle cx="764.88" cy="297.39" r="4.37" fill="#4c72b0"/>
<circle cx="865.88" cy="312.52" r="4.93" fill="#4c72b0"/>
<circle cx="745.58" cy="348.34" r="3.73" fill="#4c72b0"/>
<circle cx="649.81" cy="340.96" r="3.73" fill="#4c72b0"/>
<circle cx="793.75" cy="349.45" r="4.37" fill="#4c72b0"/>
<circle cx="759.05" cy="232.77" r="4.93" fill="#4c72b0"/>
<path d="M943.29,86.04 945.76,88.51 948.22,86.04 950.69,88.51 948.22,90.98 950.69,93.44 948.22,95.91 945.76,93.44 943.29,95.91 940.83,93.44 943.29,90.98 940.83,88.51Z" fill="#dd8452"/>
<circle cx="654.06" cy="330.99" r="3.73" fill="#4c72b0"/>
<circle cx="778.02" cy="183.29" r="4.37" fill="#4c72b0"/>
<circle cx="650.98" cy="382.68" r="3.73" fill="#4c72b0"/>
<circle cx="777.86" cy="312.52" r="5.43" fill="#4c72b0"/>
<circle cx="640.08" cy="367.91" r="3.73" fill="#4c72b0"/>
<circle cx="608.05" cy="370.13" r="3.73" fill="#4c72b0"/>
<circle cx="794.41" cy="309.20" r="4.93" fill="#4c72b0"/>
<path d="M711.33,307.59 713.79,310.06 716.26,307.59 718.72,310.06 716.26,312.52 718.72,314.99 716.26,317.46 713.79,314.99 711.33,317.46 708.86,314.99 711.33,312.52 708.86,310.06Z" fill="#dd8452"/>
<path d="M652.28,319.14 654.14,321.00 656.00,319.14 657.87,321.00 656.00,322.86 657.87,324.73 656.00,326.59 654.14,324.73 652.28,326.59 650.41,324.73 652.28,322.86 650.41,321.00Z" fill="#dd8452"/>
<circle cx="727.69" cy="316.96" r="3.73" fill="#4c72b0"/>
<circle cx="743.41" cy="349.45" r="4.93" fill="#4c72b0"/>
<circle cx="674.19" cy="312.52" r="4.37" fill="#4c72b0"/>
<path d="M638.38,294.40 640.25,296.26 642.11,294.40 643.97,296.26 642.11,298.12 643.97,299.99 642.11,301.85 640.25,299.99 638.38,301.85 636.52,299.99 638.38,298.12 636.52,296.26Z" fill="#dd8452"/>
<path d="M631.39,365.29 633.26,367.16 635.12,365.29 636.98,367.16 635.12,369.02 636.98,370.88 635.12,372.75 633.26,370.88 631.39,372.75 629.53,370.88 631.39,369.02 629.53,367.16Z" fill="#dd8452"/>
<circle cx="672.86" cy="312.52" r="3.73" fill="#4c72b0"/>
<path d="M625.57,373.42 627.43,375.28 629.30,373.42 631.16,375.28 629.30,377.14 631.16,379.01 629.30,380.87 627.43,379.01 625.57,380.87 623.71,379.01 625.57,377.14 623.71,375.28Z" fill="#dd8452"/>
<circle cx="648.48" cy="386.38" r="3.73" fill="#4c72b0"/>
<circle cx="816.80" cy="380.10" r="3.73" fill="#4c72b0"/>
<path d="M839.57,246.49 841.76,248.68 843.94,246.49 846.13,248.68 843.94,250.86 846.13,253.05 843.94,255.23 841.76,253.05 839.57,255.23 837.39,253.05 839.57,250.86 837.39,248.68Z" fill="#dd8452"/>
<path d="M782.99,200.33 785.18,202.52 787.36,200.33 789.55,202.52 787.36,204.70 789.55,206.89 787.36,209.07 785.18,206.89 782.99,209.07 780.81,206.89 782.99,204.70 780.81,202.52Z" fill="#dd8452"/>
<circle cx="769.79" cy="349.45" r="3.73" fill="#4c72b0"/>
<circle cx="732.26" cy="349.45" r="3.73" fill="#4c72b0"/>
<path d="M690.05,354.95 691.91,356.82 693.78,354.95 695.64,356.82 693.78,358.68 695.64,360.54 693.78,362.41 691.91,360.54 690.05,362.41 688.19,360.54 690.05,358.68 688.19,356.82Z" fill="#dd8452"/>
<path d="M698.04,308.80 699.90,310.66 701.76,308.80 703.63,310.66 701.76,312.52 703.63,314.39 701.76,316.25 699.90,314.39 698.04,316.25 696.17,314.39 698.04,312.52 696.17,310.66Z" fill="#dd8452"/>
</g>
<text x="767.9" y="27.3" font-size="16.67" text-anchor="middle">time = Dinner</text>
<text x="626.35" y="428.9" font-size="15.28" text-anchor="middle" letter-spacing="-0.6">10</text>
<text x="709.55" y="428.9" font-size="15.28" text-anchor="middle" letter-spacing="-0.6">20</text>
<text x="792.75" y="428.9" font-size="15.28" text-anchor="middle" letter-spacing="-0.6">30</text>
<text x="875.95" y="428.9" font-size="15.28" text-anchor="middle" letter-spacing="-0.6">40</text>
<text x="959.15" y="428.9" font-size="15.28" text-anchor="middle" letter-spacing="-0.6">50</text>
<text x="767.9" y="448.8" font-size="16.67" text-anchor="middle" letter-spacing="-0.1">total_bill</text>
</g>
<text x="63.60" y="354.95" font-size="15.28" text-anchor="end">2</text>
<text x="63.60" y="281.10" font-size="15.28" text-anchor="end">4</text>
<text x="63.60" y="207.25" font-size="15.28" text-anchor="end">6</text>
<text x="63.60" y="133.40" font-size="15.28" text-anchor="end">8</text>
<text x="62.30" y="59.55" font-size="15.28" text-anchor="end" letter-spacing="-0.6">10</text>
<text transform="translate(36.9,222.3) rotate(-90)" font-size="16.67" text-anchor="middle" letter-spacing="-0.4">tip</text>
<g id="legend">
<text x="1042.0" y="160.7" font-size="15.28">smoker</text>
<circle cx="1014.5" cy="179.40" r="4.17" fill="#4c72b0" stroke="#4c72b0" stroke-width="1.39"/>
<text x="1041.1" y="182.6" font-size="15.28">Yes</text>
<path d="M1012.42,197.33 1014.50,199.42 1016.58,197.33 1018.67,199.42 1016.58,201.50 1018.67,203.58 1016.58,205.67 1014.50,203.58 1012.42,205.67 1010.33,203.58 1012.42,201.50 1010.33,199.42Z" fill="#dd8452" stroke="#dd8452" stroke-width="1.39" stroke-linejoin="miter"/>
<text x="1041.0" y="204.8" font-size="15.28">No</text>
<text x="1042.4" y="225.9" font-size="15.28">size</text>
<circle cx="1014.5" cy="244.50" r="2.95" fill="#333333" stroke="#333333" stroke-width="1.39"/>
<text x="1042.0" y="248.0" font-size="15.28">0</text>
<circle cx="1014.5" cy="265.40" r="3.73" fill="#333333" stroke="#333333" stroke-width="1.39"/>
<text x="1042.0" y="269.0" font-size="15.28">2</text>
<circle cx="1014.5" cy="287.40" r="4.93" fill="#333333" stroke="#333333" stroke-width="1.39"/>
<text x="1042.0" y="290.9" font-size="15.28">4</text>
<circle cx="1014.5" cy="309.25" r="5.89" fill="#333333" stroke="#333333" stroke-width="1.39"/>
<text x="1042.0" y="312.9" font-size="15.28">6</text>
</g>
</svg>
</body></html>
